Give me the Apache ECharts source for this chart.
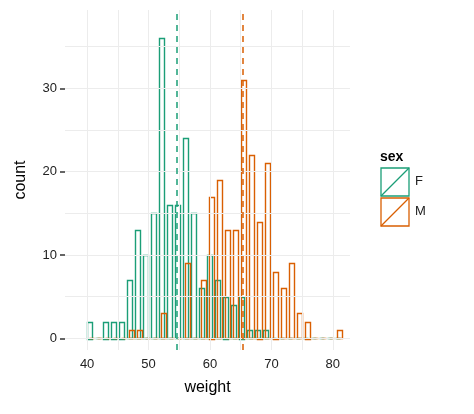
<!DOCTYPE html><html><head><meta charset="utf-8"><script src="https://cdn.jsdelivr.net/npm/echarts@6/dist/echarts.min.js"></script>
<style>html,body{margin:0;background:#fff}#c{width:474px;height:414px}</style></head><body><div id="c"></div><script>
var binCenters=[40.5,41.8,43.1,44.4,45.7,47.0,48.3,49.6,50.9,52.2,53.5,54.8,56.1,57.4,58.7,60.0,61.3,62.6,63.9,65.2,66.5,67.8,69.1,70.4,71.7,73.0,74.3,75.6,76.9,78.2,79.5,80.8];
var countF=[2,0,2,2,2,7,13,10,15,36,16,16,24,15,6,10,7,5,4,5,1,1,1,0,0,0,0,0,0,0,0,0];
var countM=[0,0,0,0,0,1,1,0,0,3,0,0,9,0,7,17,19,13,13,31,22,14,21,8,6,9,3,2,0,0,0,1];
var meanF=54.6, meanM=65.3;
var xTicks=[40,50,60,70,80], yTicks=[0,10,20,30];
var binW=1.3;
var green='#1B9E77', orange='#D95F02';
function hist(counts,color,mean,shift){
  return {type:'custom',renderItem:function(p,api){
    var x=api.value(0)+shift,y=api.value(1);
    var a=api.coord([x-binW/2,y]),b=api.coord([x+binW/2,0]);
    return {type:'rect',shape:{x:Math.round(a[0])+1.5,y:Math.round(a[1])+0.5,width:Math.round(b[0]-a[0])-3,height:Math.round(b[1]-a[1])},style:{fill:'none',stroke:color,lineWidth:1.4}};
  },data:binCenters.map(function(c,i){return [c,counts[i]];}),
  markLine:{silent:true,symbol:'none',label:{show:false},lineStyle:{color:color,type:[6,5],width:1.5},data:[{xAxis:mean}]},z:color==green?2:3};
}
var gridLines=[];
[35,40,45,50,55,60,65,70,75,80].forEach(function(v){gridLines.push([{coord:[v,-1.4]},{coord:[v,39.4]}]);});
[0,5,10,15,20,25,30,35].forEach(function(v){gridLines.push([{coord:[36.4,v]},{coord:[82.8,v]}]);});
var ch=echarts.init(document.getElementById('c'));
ch.setOption({animation:false,
 grid:{left:65,right:124,top:10,bottom:64},
 xAxis:{type:'value',min:36.4,max:82.8,name:'weight',nameLocation:'middle',nameGap:30,nameTextStyle:{fontSize:16,color:'#000',fontFamily:'Liberation Sans'},
  axisLine:{show:false},splitLine:{show:false},axisTick:{show:true,customValues:xTicks,length:4,lineStyle:{color:'#333'}},
  axisLabel:{customValues:xTicks,fontSize:13,color:'#222',fontFamily:'Liberation Sans',margin:8}},
 yAxis:{type:'value',min:-1.4,max:39.4,name:'count',nameLocation:'middle',nameGap:36,nameTextStyle:{fontSize:16,color:'#000',fontFamily:'Liberation Sans'},
  axisLine:{show:false},splitLine:{show:false},axisTick:{show:true,customValues:yTicks,length:5,lineStyle:{color:'#333',width:1.5}},
  axisLabel:{customValues:yTicks,fontSize:13,color:'#222',fontFamily:'Liberation Sans',margin:8}},
 series:[{type:'line',data:[],markLine:{silent:true,symbol:'none',label:{show:false},lineStyle:{color:'#ececec',type:'solid',width:1},data:gridLines},z:0},
  hist(countF,green,meanF,0),hist(countM,orange,meanM,0.35)],
 graphic:[
  {type:'text',left:380,top:150,style:{text:'sex',font:'bold 14px Liberation Sans',fill:'#000'}},
  {type:'rect',shape:{x:381,y:168,width:28,height:28},style:{fill:'#fff',stroke:green,lineWidth:1.3}},
  {type:'line',shape:{x1:381,y1:196,x2:409,y2:168},style:{stroke:green,lineWidth:1.3}},
  {type:'text',left:415,top:175,style:{text:'F',font:'13px Liberation Sans',fill:'#222'}},
  {type:'rect',shape:{x:381,y:198,width:28,height:28},style:{fill:'#fff',stroke:orange,lineWidth:1.3}},
  {type:'line',shape:{x1:381,y1:226,x2:409,y2:198},style:{stroke:orange,lineWidth:1.3}},
  {type:'text',left:415,top:205,style:{text:'M',font:'13px Liberation Sans',fill:'#222'}}
 ]});
</script></body></html>
